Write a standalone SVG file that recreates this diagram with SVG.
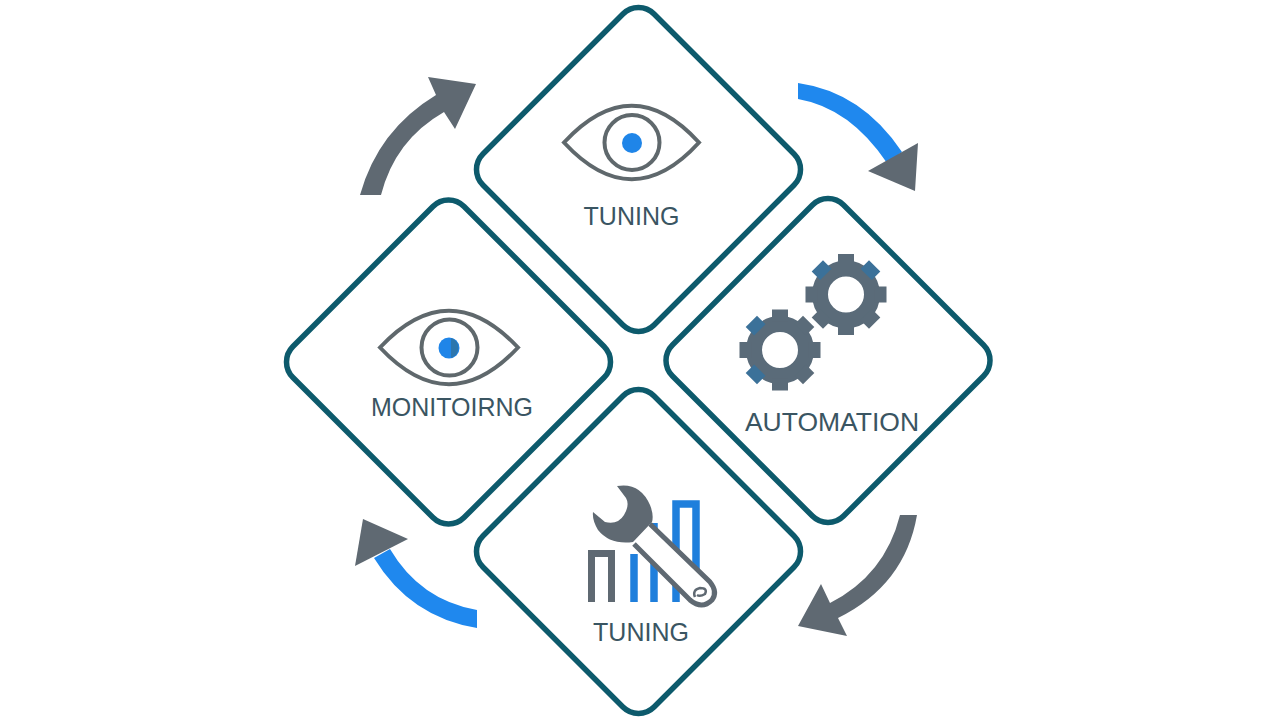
<svg xmlns="http://www.w3.org/2000/svg" width="1280" height="720" viewBox="0 0 1280 720">
<style>
.d{fill:#fff;stroke:#0d5a6c;stroke-width:5.500}
.l{font-family:"Liberation Sans",Arial,sans-serif;font-size:25px;fill:#3a5562;text-anchor:middle}
.o{fill:none;stroke:#5f686c;stroke-width:4}
.b{fill:#1f85e8}
.g{fill:#5f6972}
.bar{fill:none;stroke:#1f7fdc;stroke-width:7.500}
.ring{fill:none;stroke:#5a6b79;stroke-width:16}
.t{fill:#5a6b79}
.ta{fill:#3b7199}
</style>
<defs>
<rect id="tooth" x="-8" y="-40.500" width="16" height="12"/>
</defs>
<rect width="1280" height="720" fill="#fff"/>
<g id="connectors">
<path id="arrow-top-left" class="g" d="M360 195Q378 130 436 95L428 77L476 84L455 129L444 112Q395 140 381 195Z"/>
<g id="arrow-top-right"><path fill="#1f88ee" d="M798 83Q862 92 902 152L887 163Q850 108 798 99Z"/><path class="g" d="M918 143L915 191L868 171Z"/></g>
<path id="arrow-bottom-right" class="g" d="M900 515Q885 575 830 603L821 584L798 626L847 636L838 618Q905 585 917 515Z"/>
<g id="arrow-bottom-left"><path fill="#1f88ee" d="M477 610Q420 600 390 549L374 558Q410 617 477 628Z"/><path class="g" d="M363 519L408 539L355 566Z"/></g>
</g>
<g id="node-top">
<rect x="517.500" y="48.500" width="242" height="242" rx="22" class="d" transform="rotate(45 638.500 169.500)"/>
<path d="M564 142.500Q632 69 699 142.500Q632 216 564 142.500Z" class="o"/>
<circle cx="632" cy="142.500" r="27.500" class="o"/>
<circle cx="632" cy="143" r="10" class="b"/>
<text x="631.500" y="225" class="l">TUNING</text>
</g>
<g id="node-right">
<rect x="707" y="239.500" width="242" height="242" rx="22" class="d" transform="rotate(45 828 360.500)"/>
<g id="gear-upper" transform="translate(846 294.500)"><circle r="26" class="ring"/>
<use href="#tooth" class="t"/><use href="#tooth" class="ta" transform="rotate(45)"/><use href="#tooth" class="t" transform="rotate(90)"/><use href="#tooth" class="t" transform="rotate(135)"/><use href="#tooth" class="t" transform="rotate(180)"/><use href="#tooth" class="t" transform="rotate(225)"/><use href="#tooth" class="t" transform="rotate(270)"/><use href="#tooth" class="ta" transform="rotate(315)"/></g>
<g id="gear-lower" transform="translate(780 350)"><circle r="26" class="ring"/>
<use href="#tooth" class="t"/><use href="#tooth" class="t" transform="rotate(45)"/><use href="#tooth" class="t" transform="rotate(90)"/><use href="#tooth" class="t" transform="rotate(135)"/><use href="#tooth" class="t" transform="rotate(180)"/><use href="#tooth" class="ta" transform="rotate(225)"/><use href="#tooth" class="t" transform="rotate(270)"/><use href="#tooth" class="ta" transform="rotate(315)"/></g>
<text x="832" y="431" class="l" style="font-size:26.500px">AUTOMATION</text>
</g>
<g id="node-bottom">
<rect x="517.500" y="430.500" width="242" height="242" rx="22" class="d" transform="rotate(45 638.500 551.500)"/>
<path d="M591.500 602V553.500H611.500V602" fill="none" stroke="#5f6972" stroke-width="7"/>
<path d="M634 602V554" class="bar"/>
<path d="M654 602V523" class="bar"/>
<path d="M676 602V504H696V576" class="bar"/>
<path d="M650 524L710 582Q718 592 712 600Q702 610 690 600L634 544" fill="#fff" stroke="#5f6972" stroke-width="5"/>
<path d="M695 597Q692 590 700 588Q708 588 705 594Q700 597 697 595" fill="none" stroke="#5f6972" stroke-width="2.500"/>
<path d="M617 486Q640 482 650 505Q654 515 652 522L633 542Q610 545 598 530Q592 520 593 512L605 522Q618 525 624 515Q630 505 626 498Z" class="g"/>
<text x="641" y="641" class="l">TUNING</text>
</g>
<g id="node-left">
<rect x="327.500" y="241" width="242" height="242" rx="22" class="d" transform="rotate(45 448.500 362)"/>
<path d="M380 347.500Q449 274 518 347.500Q449 421 380 347.500Z" class="o"/>
<circle cx="449.500" cy="347.500" r="28" class="o"/>
<circle cx="449" cy="348" r="10.500" class="b"/>
<path d="M451 338A10.500 10.500 0 0 1 451 358Z" fill="#2d76ad"/>
<text x="452" y="416" class="l">MONITOIRNG</text>
</g>
</svg>
